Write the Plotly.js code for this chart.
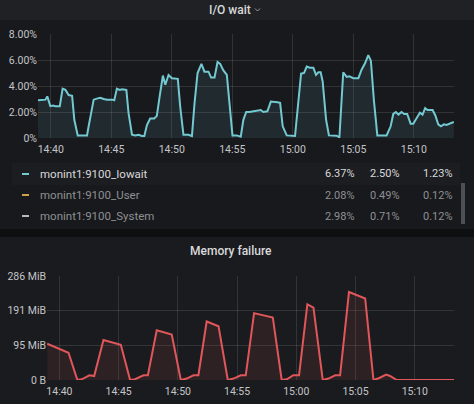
<!DOCTYPE html>
<html>
<head>
<meta charset="utf-8">
<script src="https://cdn.plot.ly/plotly-3.0.1.min.js"></script>
<style>
html,body{margin:0;padding:0;background:#18191c;}
#chart{width:474px;height:404px;}
</style>
</head>
<body>
<div id="chart"></div>
<script>
// ---------- data ----------
const DAY = '2021-01-01 ';
const ioTimes = ['14:38:57','14:39:17','14:39:34','14:39:43','14:39:58','14:40:12','14:40:23','14:40:45','14:40:59','14:41:13','14:41:29','14:41:46','14:41:57','14:42:14','14:42:35','14:43:00','14:43:08','14:43:20','14:43:33','14:43:53','14:44:06','14:44:22','14:44:39','14:45:04','14:45:15','14:45:28','14:45:42','14:45:53','14:46:15','14:46:26','14:46:43','14:46:59','14:47:16','14:47:32','14:47:44','14:47:57','14:48:13','14:48:33','14:48:46','14:49:00','14:49:16','14:49:28','14:49:44','14:50:01','14:50:17','14:50:30','14:50:42','14:50:58','14:51:23','14:51:40','14:51:53','14:52:08','14:52:27','14:52:42','14:53:02','14:53:15','14:53:32','14:53:47','14:54:00','14:54:16','14:54:33','14:54:46','14:55:01','14:55:22','14:55:42','14:55:55','14:56:09','14:56:25','14:56:45','14:57:01','14:57:21','14:57:34','14:57:54','14:58:11','14:58:27','14:58:44','14:58:57','14:59:10','14:59:30','14:59:55','15:00:11','15:00:41','15:00:56','15:01:09','15:01:25','15:01:42','15:01:55','15:02:07','15:02:18','15:02:28','15:02:45','15:02:59','15:03:21','15:03:37','15:03:51','15:04:10','15:04:27','15:04:40','15:05:00','15:05:25','15:05:41','15:05:58','15:06:14','15:06:27','15:06:42','15:06:59','15:07:20','15:07:45','15:08:05','15:08:18','15:08:31','15:08:44','15:08:59','15:09:12','15:09:27','15:09:44','15:09:57','15:10:13','15:10:30','15:10:43','15:10:56','15:11:08','15:11:33','15:11:46','15:12:01','15:12:14','15:12:29','15:12:42','15:12:58','15:13:18'];
const ioValues = [2.9,2.95,2.95,3.2,2.45,2.5,2.45,2.45,3.8,3.7,3.3,3.25,1.4,0.2,0.2,0.2,0.9,1.9,2.95,3.05,3.1,3.0,2.95,2.95,2.9,3.8,3.7,3.75,3.7,1.9,0.25,0.2,0.25,0.15,0.15,1.0,1.5,1.5,1.7,3.2,4.8,4.1,4.85,4.6,4.55,4.55,2.4,0.25,0.25,0.15,2.7,5.0,5.7,5.1,5.1,4.65,4.65,5.85,5.7,5.2,4.85,2.4,0.2,0.2,0.1,1.4,2.0,2.0,2.05,2.1,2.15,2.0,2.05,2.8,2.8,2.75,2.7,0.9,0.2,0.2,0.15,4.95,5.0,5.5,5.4,5.4,4.85,5.05,5.05,4.35,1.4,0.2,0.2,0.18,0.05,5.05,4.7,4.75,4.6,4.6,5.25,5.75,6.37,5.95,2.9,0.2,0.2,0.2,0.9,1.85,2.0,1.8,2.0,1.85,1.85,1.1,1.1,1.5,1.95,1.8,2.3,2.15,2.15,1.75,1.05,0.9,1.05,1.0,1.1,1.23];

const memTimes = ['14:38:58','14:40:46','14:41:31','14:41:53','14:42:32','14:42:56','14:43:43','14:45:11','14:45:58','14:46:23','14:47:06','14:47:28','14:48:13','14:49:29','14:50:15','14:50:45','14:51:19','14:51:44','14:52:26','14:53:26','14:54:13','14:54:42','14:55:19','14:55:44','14:56:26','14:58:01','14:58:46','14:59:12','14:59:45','15:00:14','15:00:56','15:01:27','15:02:14','15:02:43','15:03:17','15:03:42','15:04:27','15:05:49','15:06:31','15:07:01','15:07:35','15:07:55','15:08:29','15:13:19'];
const memValues = [100,75,0,2,13,11,110,97,0,2,13,13,137,125,0,4,13,13,161,148,0,4,13,13,184,172,0,2,13,13,208,199,0,4,13,13,242,224,0,5.5,15,11,0,0];

const xTickVals = ['14:40','14:45','14:50','14:55','15:00','15:05','15:10'];
const ioTickVals = [0,2,4,6,8];
const ioTickText = ['0%','2.00%','4.00%','6.00%','8.00%'];
const memTickVals = [0,95.367,190.735,286.102];
const memTickText = ['0 B','95 MiB','191 MiB','286 MiB'];

const legendNames = ['monint1:9100_Iowait','monint1:9100_User','monint1:9100_System'];
const legendMax = ['6.37%','2.08%','2.98%'];
const legendAvg = ['2.50%','0.49%','0.71%'];
const legendCur = ['1.23%','0.12%','0.12%'];

// ---------- layout helpers ----------
const W = 474, H = 404;
const px = x => x / W;
const py = y => 1 - y / H;
const FONT = 'Roboto, "Noto Sans", sans-serif';
const CYAN = '#73c9d2';
const RED = '#e0575b';
const legendMarker = [CYAN, '#c9a24a', '#b9b9b9'];
const legendText = ['#d8d9da', '#8e9094', '#8e9094'];

const traces = [
  {x: ioTimes.map(t => DAY + t), y: ioValues, type: 'scatter', mode: 'lines',
   line: {color: CYAN, width: 2}, fill: 'tozeroy', fillcolor: 'rgba(115,201,210,0.10)',
   xaxis: 'x', yaxis: 'y', hoverinfo: 'skip'},
  {x: memTimes.map(t => DAY + t), y: memValues, type: 'scatter', mode: 'lines',
   line: {color: RED, width: 2}, fill: 'tozeroy', fillcolor: 'rgba(224,87,91,0.10)',
   xaxis: 'x2', yaxis: 'y2', hoverinfo: 'skip'}
];

const gridColor = 'rgba(255,255,255,0.11)';
const tickFont = {family: FONT, size: 10.5, color: '#c4c5c8'};
const xCommon = {
  type: 'date', tickvals: xTickVals.map(t => DAY + t + ':00'), ticktext: xTickVals,
  showgrid: true, gridcolor: gridColor, gridwidth: 1, zeroline: false, showline: false,
  ticks: '', tickfont: tickFont, fixedrange: true, ticklabelstandoff: 3,
  range: [DAY + '14:38:57', DAY + '15:13:19']
};
const yCommon = {
  showgrid: true, gridcolor: gridColor, gridwidth: 1, zeroline: false, showline: false,
  ticks: '', tickfont: tickFont, fixedrange: true
};

const shapes = [
  {type: 'rect', xref: 'paper', yref: 'paper', x0: 0, x1: 1, y0: py(20), y1: 1,
   fillcolor: '#202125', line: {width: 0}, layer: 'below'},
  {type: 'rect', xref: 'paper', yref: 'paper', x0: 0, x1: 1, y0: py(237), y1: py(229),
   fillcolor: '#0e0f11', line: {width: 0}, layer: 'below'},
  {type: 'rect', xref: 'paper', yref: 'paper', x0: 0, x1: 1, y0: 0, y1: py(237),
   fillcolor: '#1a1b1e', line: {width: 0}, layer: 'below'},
  {type: 'rect', xref: 'paper', yref: 'paper', x0: px(12), x1: px(460), y0: py(185), y1: py(163),
   fillcolor: '#1c1d21', line: {width: 0}, layer: 'below'},
  {type: 'rect', xref: 'paper', yref: 'paper', x0: px(461), x1: px(465), y0: py(224), y1: py(183),
   fillcolor: '#4e4f55', line: {width: 0}, layer: 'below'},
  // chevron next to panel title
  {type: 'path', xref: 'paper', yref: 'paper',
   path: 'M ' + px(255) + ' ' + py(8.5) + ' L ' + px(257.5) + ' ' + py(11) + ' L ' + px(260) + ' ' + py(8.5),
   line: {color: '#9a9ca0', width: 1}}
];

const annotations = [
  {text: 'I/O wait', x: px(230), y: py(10), xref: 'paper', yref: 'paper', xanchor: 'center', yanchor: 'middle',
   showarrow: false, font: {family: FONT, size: 12, color: '#d8d9da', weight: 500}},
  {text: 'Memory failure', x: px(231), y: py(251), xref: 'paper', yref: 'paper', xanchor: 'center', yanchor: 'middle',
   showarrow: false, font: {family: FONT, size: 12, color: '#d8d9da', weight: 500}}
];

const rowY = [174, 195, 216];
legendNames.forEach((name, i) => {
  shapes.push({type: 'line', xref: 'paper', yref: 'paper', x0: px(22), x1: px(29), y0: py(rowY[i]), y1: py(rowY[i]),
    line: {color: legendMarker[i], width: 2}});
  annotations.push({text: name, x: px(38), y: py(rowY[i]), xref: 'paper', yref: 'paper', xanchor: 'left', yanchor: 'middle',
    showarrow: false, font: {family: FONT, size: 11.5, color: legendText[i]}});
  [[legendMax, 357], [legendAvg, 402], [legendCur, 455]].forEach(([arr, xr]) => {
    annotations.push({text: arr[i], x: px(xr), y: py(rowY[i]), xref: 'paper', yref: 'paper', xanchor: 'right', yanchor: 'middle',
      showarrow: false, font: {family: FONT, size: 11, color: legendText[i]}});
  });
});

const layout = {
  width: W, height: H,
  margin: {l: 0, r: 0, t: 0, b: 0, pad: 0},
  paper_bgcolor: '#18191c', plot_bgcolor: 'rgba(0,0,0,0)',
  showlegend: false,
  xaxis: Object.assign({}, xCommon, {domain: [px(38), px(454)], anchor: 'y'}),
  yaxis: Object.assign({}, yCommon, {domain: [py(138), py(34)], range: [0, 8], anchor: 'x',
    tickvals: ioTickVals, ticktext: ioTickText}),
  xaxis2: Object.assign({}, xCommon, {domain: [px(47), px(454)], anchor: 'y2'}),
  yaxis2: Object.assign({}, yCommon, {domain: [py(380), py(276)], range: [0, 286.102], anchor: 'x2',
    tickvals: memTickVals, ticktext: memTickText}),
  shapes: shapes,
  annotations: annotations
};

Plotly.newPlot('chart', traces, layout, {displayModeBar: false, staticPlot: true});
</script>
</body>
</html>
